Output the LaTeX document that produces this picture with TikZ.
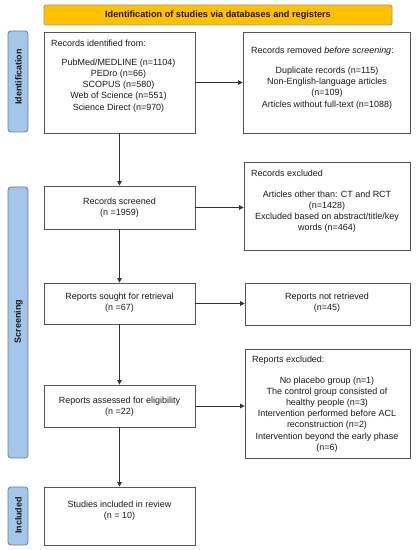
\documentclass[tikz,border=0pt]{standalone}
\usepackage{fontspec}
\setmainfont{Liberation Sans}
\usetikzlibrary{arrows.meta}
\definecolor{bannerfill}{HTML}{FFC000}
\definecolor{sidefill}{HTML}{A4C6E8}
\definecolor{sidedraw}{HTML}{6E7F92}
\definecolor{boxdraw}{HTML}{555555}
\definecolor{arrowcol}{HTML}{333333}
\definecolor{textcol}{HTML}{1A1A1A}
\begin{document}
\begin{tikzpicture}[x=1bp,y=-1bp,
  box/.style={draw=boxdraw,line width=0.8bp,fill=white},
  banner/.style={draw=gray!80,line width=0.8bp,fill=bannerfill,rounded corners=2bp},
  side/.style={draw=sidedraw,line width=0.8bp,fill=sidefill,rounded corners=3bp},
  txt/.style={font=\fontsize{9}{11.2}\selectfont,text=textcol,inner sep=0pt,align=center},
  htxt/.style={font=\fontsize{9}{11.2}\selectfont,text=textcol,inner sep=0pt,anchor=west},
  sidetxt/.style={font=\fontsize{9}{10}\selectfont\bfseries,text=textcol,inner sep=0pt,rotate=90},
  arr/.style={draw=arrowcol,line width=0.8bp,-{Triangle[length=4.5bp,width=4.5bp]}}]
\useasboundingbox (0,0) rectangle (416,550);
\fill[white] (0,0) rectangle (416,550);
% banner
\draw[banner] (44,5) rectangle (392,25);
\node[font=\fontsize{9.2}{10}\selectfont\bfseries,text=textcol,inner sep=0pt] (bannertxt) at (218,15.5) {Identification of studies via databases and registers};
% side boxes
\draw[side] (8,31) rectangle (28,132);
\node[sidetxt] (sideid) at (18.5,77) {Identification};
\draw[side] (8,187) rectangle (28,458);
\node[sidetxt] (sidescr) at (18.5,321.5) {Screening};
\draw[side] (8,487) rectangle (28,545);
\node[sidetxt] (sideinc) at (18.5,515.5) {Included};
% boxes
\node[box,minimum width=151bp,minimum height=101bp,inner sep=0pt] (ident) at (119.5,82.5) {};
\node[box,minimum width=167bp,minimum height=101bp,inner sep=0pt] (removed) at (326.5,82.5) {};
\node[box,minimum width=151bp,minimum height=43bp,inner sep=0pt] (screened) at (119.5,207.5) {};
\node[box,minimum width=166bp,minimum height=88bp,inner sep=0pt] (excluded) at (327,206) {};
\node[box,minimum width=151bp,minimum height=41bp,inner sep=0pt] (sought) at (119.5,303.5) {};
\node[box,minimum width=165bp,minimum height=42bp,inner sep=0pt] (notretr) at (327.5,304) {};
\node[box,minimum width=151bp,minimum height=42bp,inner sep=0pt] (assessed) at (119.5,406) {};
\node[box,minimum width=165bp,minimum height=109bp,inner sep=0pt] (repexcl) at (327.5,403.5) {};
\node[box,minimum width=151bp,minimum height=58bp,inner sep=0pt] (included) at (119.5,516) {};
% texts
\node[htxt] (identh) at (51,43) {Records identified from:};
\node[txt] (identl) at (118.5,85.5) {PubMed/MEDLINE (n=1104)\\PEDro (n=66)\\SCOPUS (n=580)\\Web of Science (n=551)\\Science Direct (n=970)};
\node[htxt] (removedh) at (251,51) {Records removed \textit{before screening}:};
\node[txt] (removedl) at (327,88) {Duplicate records (n=115)\\Non-English-language articles\\(n=109)\\Articles without full-text (n=1088)};
\node[txt] (screenedt) at (119.5,207.5) {Records screened\\(n =1959)};
\node[htxt] (excludedh) at (251,173) {Records excluded};
\node[txt] (excludedl) at (327,211.5) {Articles other than: CT and RCT\\(n=1428)\\Excluded based on abstract/title/key\\words (n=464)};
\node[txt] (soughtt) at (119.5,303) {Reports sought for retrieval\\(n =67)};
\node[txt] (notretrt) at (327,303) {Reports not retrieved\\(n=45)};
\node[htxt] (repexclh) at (252,360) {Reports excluded:};
\node[txt] (repexcll) at (327,414.5) {No placebo group (n=1)\\The control group consisted of\\healthy people (n=3)\\Intervention performed before ACL\\reconstruction (n=2)\\Intervention beyond the early phase\\(n=6)};
\node[txt] (assessedt) at (119.5,406.5) {Reports assessed for eligibility\\(n =22)};
\node[txt] (includedt) at (119.5,511) {Studies included in review\\(n = 10)};
% arrows
\draw[arr] (ident.east) -- (removed.west |- ident.east);
\draw[arr] (ident.south -| screened.north) -- (screened.north);
\draw[arr] (screened.east) -- (excluded.west |- screened.east);
\draw[arr] (screened.south) -- (sought.north);
\draw[arr] (sought.east) -- (notretr.west |- sought.east);
\draw[arr] (sought.south) -- (assessed.north);
\draw[arr] (assessed.east) -- (repexcl.west |- assessed.east);
\draw[arr] (assessed.south) -- (included.north);
\end{tikzpicture}
\end{document}
